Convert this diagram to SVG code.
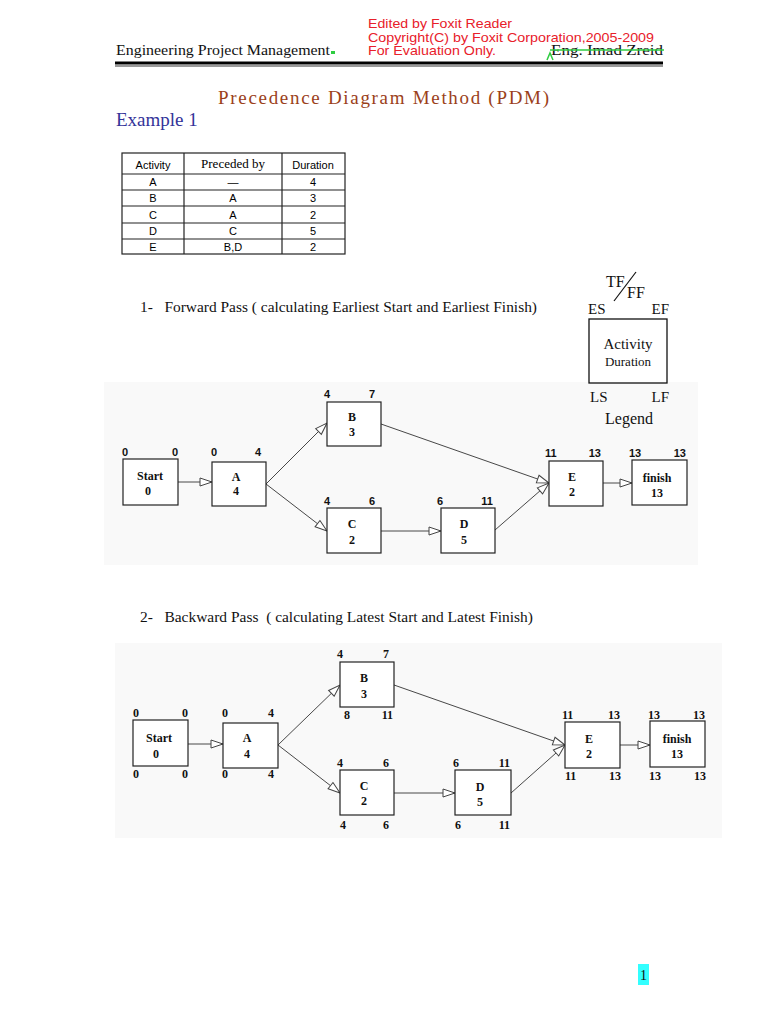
<svg xmlns="http://www.w3.org/2000/svg" width="768" height="1024" viewBox="0 0 768 1024">
<style>
.serif{font-family:"Liberation Serif","Times New Roman",serif}
.sans{font-family:"Liberation Sans",Arial,sans-serif}
.box{fill:#fff;stroke:#222;stroke-width:1.2}
.lbl{font-family:"Liberation Serif","Times New Roman",serif;font-weight:bold;font-size:12px;fill:#111}
.num1{font-family:"Liberation Sans",Arial,sans-serif;font-weight:bold;font-size:11px;fill:#111}
.num2{font-family:"Liberation Serif","Times New Roman",serif;font-weight:bold;font-size:12px;fill:#111}
.conn{stroke:#333;stroke-width:0.9;fill:none;marker-end:url(#arr)}
.cell{font-family:"Liberation Sans",Arial,sans-serif;font-size:11px;fill:#000}
.tl{stroke:#222;stroke-width:1.2}
</style>
<defs>
<marker id="arr" markerUnits="userSpaceOnUse" markerWidth="14" markerHeight="10" refX="13" refY="5" orient="auto">
<path d="M1,1 L13,5 L1,9 z" fill="#fff" stroke="#444" stroke-width="1"/>
</marker>
</defs>
<rect width="768" height="1024" fill="#fff"/>

<!-- header -->
<text class="serif" x="116" y="55" font-size="15" fill="#111" textLength="214" lengthAdjust="spacingAndGlyphs">Engineering Project Management</text>
<rect x="331" y="51" width="4" height="3" fill="#2ecc40"/>
<g class="sans" font-size="13" fill="#e8202a">
<text x="368" y="28" textLength="144" lengthAdjust="spacingAndGlyphs">Edited by Foxit Reader</text>
<text x="368" y="41.5" textLength="286" lengthAdjust="spacingAndGlyphs">Copyright(C) by Foxit Corporation,2005-2009</text>
<text x="368" y="55" textLength="128" lengthAdjust="spacingAndGlyphs">For Evaluation Only.</text>
</g>
<text class="serif" x="551" y="55" font-size="14" fill="#111" textLength="112" lengthAdjust="spacingAndGlyphs">Eng. Imad Zreid</text>
<line x1="550" y1="50" x2="664" y2="50" stroke="#2ecc40" stroke-width="1.5"/>
<path d="M547,60 L550,53 L553,60" stroke="#2ecc40" stroke-width="1.5" fill="none"/>
<rect x="115" y="61.5" width="548" height="3" fill="#000"/>
<rect x="115" y="65" width="548" height="2" fill="#999"/>

<!-- titles -->
<text class="serif" x="218" y="104" font-size="19" fill="#9b3f1a" textLength="331" lengthAdjust="spacing">Precedence Diagram Method (PDM)</text>
<text class="serif" x="116" y="126" font-size="19" fill="#333399">Example 1</text>

<!-- table -->
<g id="table">
<rect x="122" y="153" width="223" height="101" fill="#fff" stroke="#222" stroke-width="1.2"/>
<line class="tl" x1="184" y1="153" x2="184" y2="254"/>
<line class="tl" x1="282" y1="153" x2="282" y2="254"/>
<line class="tl" x1="122" y1="174" x2="345" y2="174"/>
<line class="tl" x1="122" y1="190" x2="345" y2="190"/>
<line class="tl" x1="122" y1="206" x2="345" y2="206"/>
<line class="tl" x1="122" y1="223" x2="345" y2="223"/>
<line class="tl" x1="122" y1="239" x2="345" y2="239"/>
<g text-anchor="middle">
<text class="cell" x="153" y="169">Activity</text>
<text class="serif" x="233" y="168" font-size="13">Preceded by</text>
<text class="cell" x="313" y="169">Duration</text>
<text class="cell" x="153" y="186">A</text><text class="cell" x="233" y="186">—</text><text class="cell" x="313" y="186">4</text>
<text class="cell" x="153" y="202">B</text><text class="cell" x="233" y="202">A</text><text class="cell" x="313" y="202">3</text>
<text class="cell" x="153" y="219">C</text><text class="cell" x="233" y="219">A</text><text class="cell" x="313" y="219">2</text>
<text class="cell" x="153" y="235">D</text><text class="cell" x="233" y="235">C</text><text class="cell" x="313" y="235">5</text>
<text class="cell" x="153" y="251">E</text><text class="cell" x="233" y="251">B,D</text><text class="cell" x="313" y="251">2</text>
</g>
</g>

<text class="serif" x="140" y="312" font-size="14" fill="#111" xml:space="preserve" textLength="397" lengthAdjust="spacingAndGlyphs">1-   Forward Pass ( calculating Earliest Start and Earliest Finish)</text>

<!-- diagram 1 background -->
<rect x="104" y="382" width="594" height="183" fill="#f9f9f9"/>

<!-- legend -->
<g id="legend" class="serif" fill="#111">
<text x="606" y="287" font-size="16">TF</text>
<text x="627" y="298" font-size="16">FF</text>
<line x1="614" y1="301" x2="636" y2="272" stroke="#111" stroke-width="1.2"/>
<text x="588" y="314" font-size="15">ES</text>
<text x="669" y="314" font-size="15" text-anchor="end">EF</text>
<rect x="589" y="319" width="78" height="64" fill="#fff" stroke="#111" stroke-width="1.3"/>
<text x="628" y="349" font-size="15" text-anchor="middle">Activity</text>
<text x="628" y="366" font-size="13" text-anchor="middle">Duration</text>
<text x="590" y="402" font-size="15">LS</text>
<text x="669" y="402" font-size="15" text-anchor="end">LF</text>
<text x="629" y="424" font-size="16" text-anchor="middle">Legend</text>
</g>

<!-- diagram 1 -->
<g id="connectors1">
<line class="conn" x1="178" y1="482" x2="212" y2="482"/>
<line class="conn" x1="266" y1="484" x2="327" y2="423"/>
<line class="conn" x1="266" y1="484" x2="327" y2="531"/>
<line class="conn" x1="381" y1="531" x2="441" y2="531"/>
<line class="conn" x1="495" y1="530" x2="549" y2="483"/>
<line class="conn" x1="381" y1="424" x2="549" y2="483"/>
<line class="conn" x1="603" y1="483" x2="632" y2="483"/>
</g>
<g id="f-start">
<rect class="box" x="123" y="459" width="55" height="46"/>
<text class="num1" x="122" y="456">0</text><text class="num1" x="178" y="456" text-anchor="end">0</text>
<text class="lbl" x="150" y="480" text-anchor="middle">Start</text>
<text class="lbl" x="148" y="495" text-anchor="middle">0</text>
</g>
<g id="f-a">
<rect class="box" x="212" y="462" width="54" height="44"/>
<text class="num1" x="211" y="456">0</text><text class="num1" x="261" y="456" text-anchor="end">4</text>
<text class="lbl" x="236" y="481" text-anchor="middle">A</text>
<text class="lbl" x="236" y="495" text-anchor="middle">4</text>
</g>
<g id="f-b">
<rect class="box" x="327" y="402" width="54" height="44"/>
<text class="num1" x="324" y="398">4</text><text class="num1" x="375" y="398" text-anchor="end">7</text>
<text class="lbl" x="352" y="421" text-anchor="middle">B</text>
<text class="lbl" x="352" y="436" text-anchor="middle">3</text>
</g>
<g id="f-c">
<rect class="box" x="327" y="508" width="54" height="45"/>
<text class="num1" x="324" y="505">4</text><text class="num1" x="375" y="505" text-anchor="end">6</text>
<text class="lbl" x="352" y="528" text-anchor="middle">C</text>
<text class="lbl" x="352" y="544" text-anchor="middle">2</text>
</g>
<g id="f-d">
<rect class="box" x="441" y="508" width="54" height="45"/>
<text class="num1" x="437" y="505">6</text><text class="num1" x="493" y="505" text-anchor="end">11</text>
<text class="lbl" x="464" y="528" text-anchor="middle">D</text>
<text class="lbl" x="464" y="544" text-anchor="middle">5</text>
</g>
<g id="f-e">
<rect class="box" x="549" y="461" width="54" height="45"/>
<text class="num1" x="545" y="457">11</text><text class="num1" x="601" y="457" text-anchor="end">13</text>
<text class="lbl" x="572" y="481" text-anchor="middle">E</text>
<text class="lbl" x="572" y="496" text-anchor="middle">2</text>
</g>
<g id="f-finish">
<rect class="box" x="632" y="460" width="55" height="45"/>
<text class="num1" x="629" y="457">13</text><text class="num1" x="686" y="457" text-anchor="end">13</text>
<text class="lbl" x="657" y="482" text-anchor="middle">finish</text>
<text class="lbl" x="657" y="497" text-anchor="middle">13</text>
</g>

<text class="serif" x="140" y="622" font-size="14" fill="#111" xml:space="preserve" textLength="393" lengthAdjust="spacingAndGlyphs">2-   Backward Pass  ( calculating Latest Start and Latest Finish)</text>

<!-- diagram 2 -->
<rect x="115" y="643" width="607" height="195" fill="#f9f9f9"/>
<g id="connectors2">
<line class="conn" x1="188" y1="744" x2="223" y2="744"/>
<line class="conn" x1="278" y1="745" x2="340" y2="685"/>
<line class="conn" x1="278" y1="745" x2="340" y2="793"/>
<line class="conn" x1="394" y1="793" x2="455" y2="793"/>
<line class="conn" x1="511" y1="793" x2="565" y2="745"/>
<line class="conn" x1="394" y1="685" x2="565" y2="745"/>
<line class="conn" x1="620" y1="745" x2="650" y2="745"/>
</g>
<g id="b-start">
<rect class="box" x="133" y="720" width="55" height="46"/>
<text class="num2" x="133" y="717">0</text><text class="num2" x="188" y="717" text-anchor="end">0</text>
<text class="num2" x="133" y="778">0</text><text class="num2" x="188" y="778" text-anchor="end">0</text>
<text class="lbl" x="159" y="742" text-anchor="middle">Start</text>
<text class="lbl" x="156" y="758" text-anchor="middle">0</text>
</g>
<g id="b-a">
<rect class="box" x="223" y="723" width="55" height="45"/>
<text class="num2" x="222" y="717">0</text><text class="num2" x="274" y="717" text-anchor="end">4</text>
<text class="num2" x="222" y="778">0</text><text class="num2" x="274" y="778" text-anchor="end">4</text>
<text class="lbl" x="247" y="742" text-anchor="middle">A</text>
<text class="lbl" x="247" y="758" text-anchor="middle">4</text>
</g>
<g id="b-b">
<rect class="box" x="340" y="662" width="54" height="45"/>
<text class="num2" x="337" y="658">4</text><text class="num2" x="389" y="658" text-anchor="end">7</text>
<text class="num2" x="344" y="719">8</text><text class="num2" x="393" y="719" text-anchor="end">11</text>
<text class="lbl" x="364" y="682" text-anchor="middle">B</text>
<text class="lbl" x="364" y="698" text-anchor="middle">3</text>
</g>
<g id="b-c">
<rect class="box" x="340" y="770" width="54" height="45"/>
<text class="num2" x="337" y="767">4</text><text class="num2" x="389" y="767" text-anchor="end">6</text>
<text class="num2" x="340" y="829">4</text><text class="num2" x="389" y="829" text-anchor="end">6</text>
<text class="lbl" x="364" y="790" text-anchor="middle">C</text>
<text class="lbl" x="364" y="805" text-anchor="middle">2</text>
</g>
<g id="b-d">
<rect class="box" x="455" y="770" width="56" height="45"/>
<text class="num2" x="453" y="767">6</text><text class="num2" x="510" y="767" text-anchor="end">11</text>
<text class="num2" x="455" y="829">6</text><text class="num2" x="510" y="829" text-anchor="end">11</text>
<text class="lbl" x="480" y="791" text-anchor="middle">D</text>
<text class="lbl" x="480" y="806" text-anchor="middle">5</text>
</g>
<g id="b-e">
<rect class="box" x="565" y="722" width="55" height="46"/>
<text class="num2" x="562" y="719">11</text><text class="num2" x="620" y="719" text-anchor="end">13</text>
<text class="num2" x="565" y="780">11</text><text class="num2" x="621" y="780" text-anchor="end">13</text>
<text class="lbl" x="589" y="743" text-anchor="middle">E</text>
<text class="lbl" x="589" y="758" text-anchor="middle">2</text>
</g>
<g id="b-finish">
<rect class="box" x="650" y="721" width="55" height="46"/>
<text class="num2" x="648" y="719">13</text><text class="num2" x="705" y="719" text-anchor="end">13</text>
<text class="num2" x="649" y="780">13</text><text class="num2" x="706" y="780" text-anchor="end">13</text>
<text class="lbl" x="677" y="743" text-anchor="middle">finish</text>
<text class="lbl" x="677" y="758" text-anchor="middle">13</text>
</g>

<!-- page number -->
<rect x="638" y="964" width="11" height="21" fill="#33ffff"/>
<text class="serif" x="643.5" y="980" font-size="14" text-anchor="middle" fill="#111">1</text>
</svg>
